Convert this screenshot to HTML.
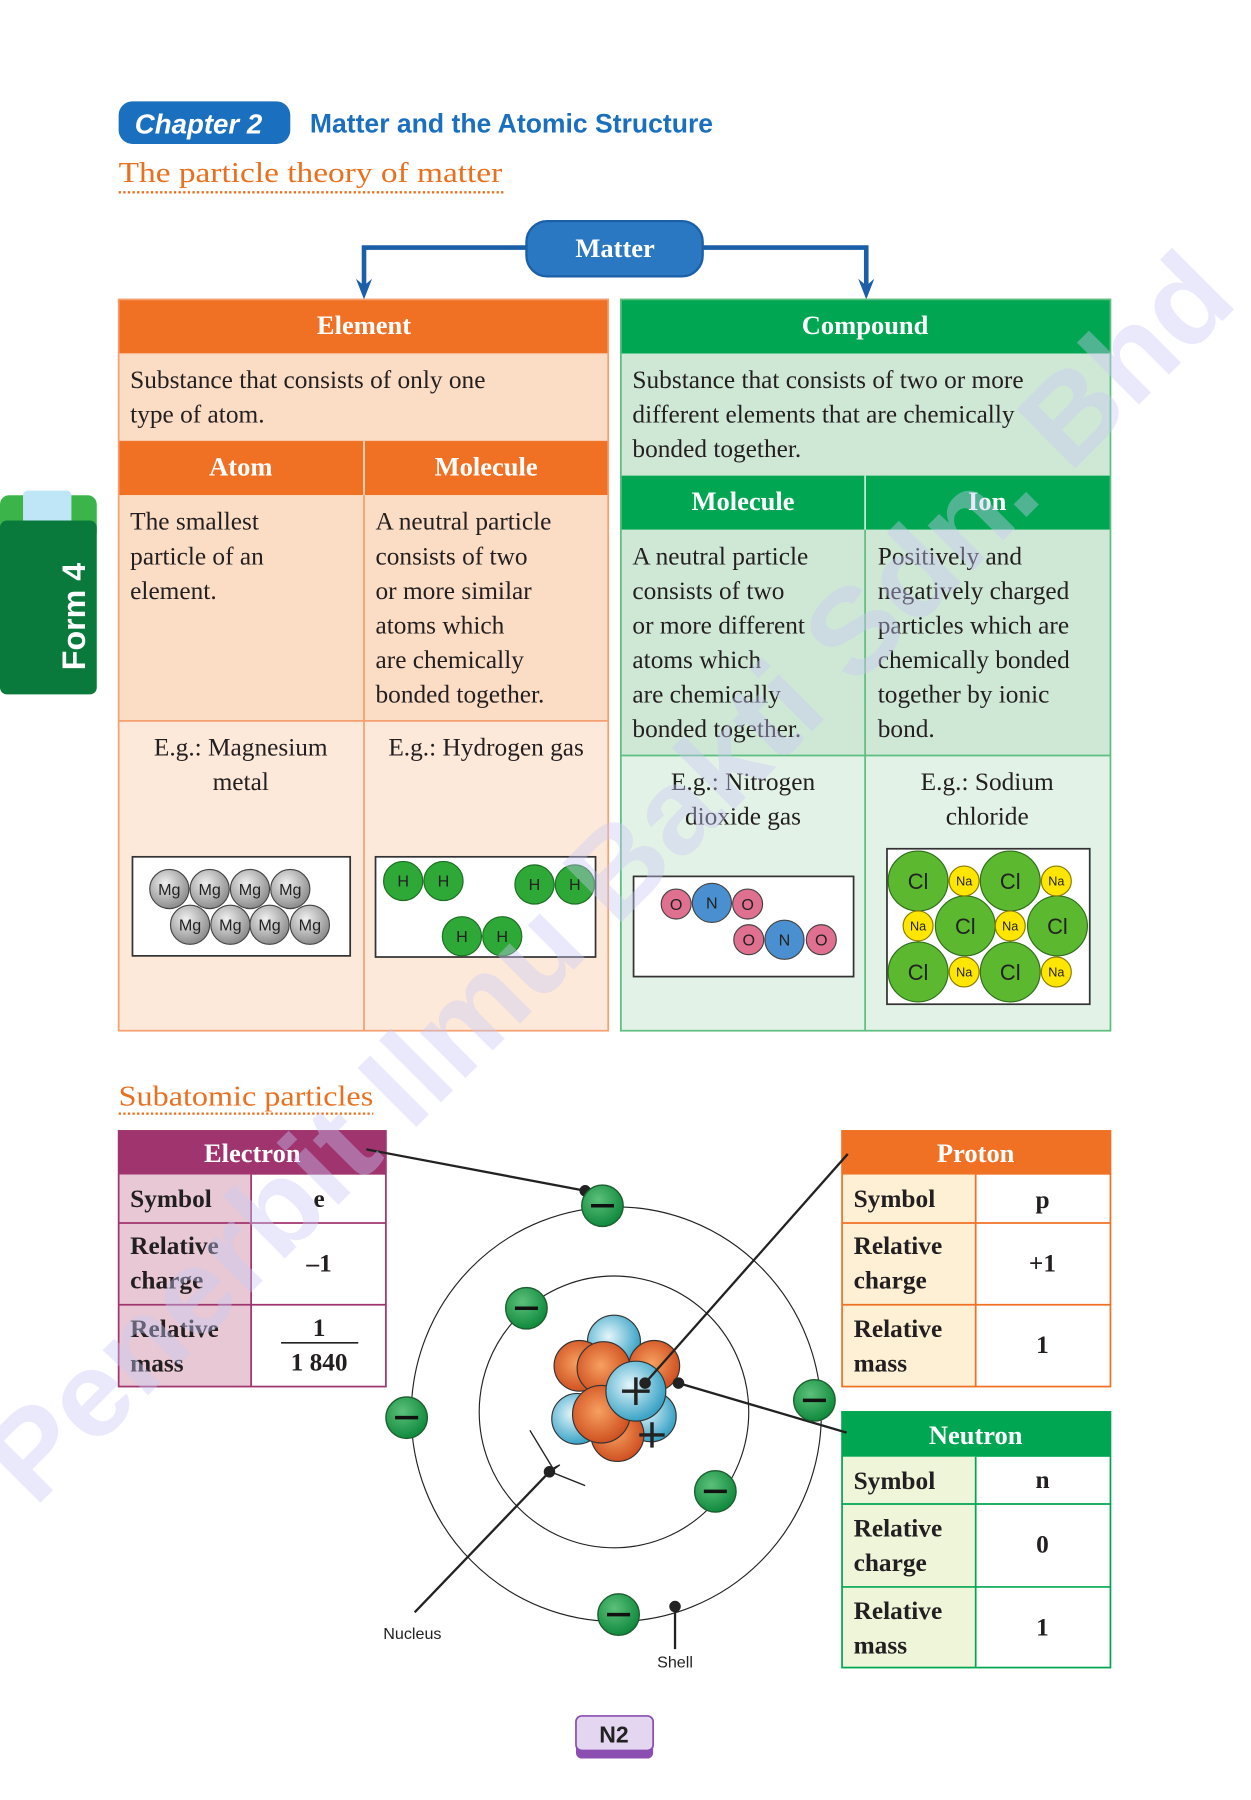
<!DOCTYPE html>
<html><head><meta charset="utf-8"><style>
html,body{margin:0;padding:0;background:#fff;}
svg{display:block;}
.s{font-family:"Liberation Serif",serif;font-size:22px;fill:#231f20;}
.h{font-family:"Liberation Serif",serif;font-size:23px;font-weight:bold;fill:#fff;}
.b{font-family:"Liberation Serif",serif;font-size:22px;font-weight:bold;fill:#231f20;}
.m{font-family:"Liberation Sans",sans-serif;font-size:14px;fill:#222;}
</style></head><body>
<svg width="1251" height="1800" viewBox="0 0 1086 1563" preserveAspectRatio="none" xmlns="http://www.w3.org/2000/svg">
<defs>
<radialGradient id="gb" cx="0.4" cy="0.4" r="0.6"><stop offset="0" stop-color="#e4f6fb"/><stop offset="1" stop-color="#3aa3c6"/></radialGradient>
<radialGradient id="go" cx="0.45" cy="0.45" r="0.6"><stop offset="0" stop-color="#f7a060"/><stop offset="1" stop-color="#cc4a1c"/></radialGradient>
<radialGradient id="gg" cx="0.4" cy="0.35" r="0.65"><stop offset="0" stop-color="#5cc07a"/><stop offset="1" stop-color="#108a3e"/></radialGradient>
<radialGradient id="gm" cx="0.4" cy="0.35" r="0.65"><stop offset="0" stop-color="#f0f0f0"/><stop offset="1" stop-color="#8c8c8c"/></radialGradient>
</defs>

<!-- Form tab -->
<rect x="0" y="430" width="84" height="40" rx="8" fill="#3bb54a"/>
<rect x="20" y="426" width="42" height="30" rx="4" fill="#bfe6f7"/>
<rect x="0" y="452" width="84" height="151" rx="6" fill="#0a7a3c"/>
<text x="0" y="0" transform="translate(74,582) rotate(-90)" font-family="Liberation Sans,sans-serif" font-weight="bold" font-size="28" fill="#fff">Form 4</text>

<!-- Header -->
<rect x="103" y="88" width="149" height="37" rx="12" fill="#1a6fbf"/>
<text x="117" y="116" font-family="Liberation Sans,sans-serif" font-weight="bold" font-style="italic" font-size="24" fill="#fff">Chapter 2</text>
<text x="269" y="115" font-family="Liberation Sans,sans-serif" font-weight="bold" font-size="23" fill="#1a6fbf" textLength="350" lengthAdjust="spacingAndGlyphs">Matter and the Atomic Structure</text>
<text x="103" y="158" font-family="Liberation Serif,serif" font-size="25" fill="#e8701f" textLength="333" lengthAdjust="spacingAndGlyphs">The particle theory of matter</text>
<line x1="103" y1="167" x2="437" y2="167" stroke="#e8701f" stroke-width="2" stroke-dasharray="2,2"/>

<!-- Matter -->
<polyline points="457,215 316,215 316,252" fill="none" stroke="#1a5fa8" stroke-width="4"/>
<polyline points="610,215 752,215 752,252" fill="none" stroke="#1a5fa8" stroke-width="4"/>
<polygon points="309,242 316,260 323,242 316,248" fill="#1a5fa8"/>
<polygon points="745,242 752,260 759,242 752,248" fill="#1a5fa8"/>
<rect x="457" y="192" width="153" height="48" rx="18" fill="#2b78c2" stroke="#1a5fa8" stroke-width="2"/>
<text x="534" y="223" text-anchor="middle" class="h" font-size="22">Matter</text>

<!-- Element -->
<rect x="103" y="260" width="425" height="47" fill="#f07024"/>
<text x="316" y="290" text-anchor="middle" class="h">Element</text>
<rect x="103" y="307" width="425" height="76" fill="#fbdcc4" stroke="#f5b890"/>
<text x="113" y="337" class="s">Substance that consists of only one</text>
<text x="113" y="367" class="s">type of atom.</text>
<rect x="103" y="383" width="425" height="47" fill="#f07024"/>
<line x1="316" y1="383" x2="316" y2="430" stroke="#fbdcc4" stroke-width="1.5"/>
<text x="209" y="413" text-anchor="middle" class="h">Atom</text>
<text x="422" y="413" text-anchor="middle" class="h">Molecule</text>
<rect x="103" y="430" width="425" height="196" fill="#fbdcc4"/>
<rect x="103" y="626" width="425" height="269" fill="#fde9da"/>
<rect x="103" y="260" width="425" height="635" fill="none" stroke="#f5a070" stroke-width="1.5"/>
<line x1="316" y1="430" x2="316" y2="895" stroke="#f5a070" stroke-width="1.5"/>
<line x1="103" y1="626" x2="528" y2="626" stroke="#f5a070" stroke-width="1.5"/>
<g class="s">
<text x="113" y="460">The smallest</text><text x="113" y="490">particle of an</text><text x="113" y="520">element.</text>
<text x="326" y="460">A neutral particle</text><text x="326" y="490">consists of two</text><text x="326" y="520">or more similar</text><text x="326" y="550">atoms which</text><text x="326" y="580">are chemically</text><text x="326" y="610">bonded together.</text>
<text x="209" y="656" text-anchor="middle">E.g.: Magnesium</text><text x="209" y="686" text-anchor="middle">metal</text>
<text x="422" y="656" text-anchor="middle">E.g.: Hydrogen gas</text>
</g>
<rect x="115" y="744" width="189" height="86" fill="#fff" stroke="#333" stroke-width="1.5"/>
<g stroke="#444" stroke-width="1">
<circle cx="147" cy="772" r="17" fill="url(#gm)"/><circle cx="182" cy="772" r="17" fill="url(#gm)"/><circle cx="217" cy="772" r="17" fill="url(#gm)"/><circle cx="252" cy="772" r="17" fill="url(#gm)"/>
<circle cx="165" cy="803" r="17" fill="url(#gm)"/><circle cx="200" cy="803" r="17" fill="url(#gm)"/><circle cx="234" cy="803" r="17" fill="url(#gm)"/><circle cx="269" cy="803" r="17" fill="url(#gm)"/>
</g>
<g class="m" text-anchor="middle">
<text x="147" y="777">Mg</text><text x="182" y="777">Mg</text><text x="217" y="777">Mg</text><text x="252" y="777">Mg</text>
<text x="165" y="808">Mg</text><text x="200" y="808">Mg</text><text x="234" y="808">Mg</text><text x="269" y="808">Mg</text>
</g>
<rect x="326" y="744" width="191" height="87" fill="#fff" stroke="#333" stroke-width="1.5"/>
<g fill="#2ea836" stroke="#1d6e23" stroke-width="1">
<circle cx="350" cy="765" r="17"/><circle cx="385" cy="765" r="17"/>
<circle cx="464" cy="768" r="17"/><circle cx="499" cy="768" r="17"/>
<circle cx="401" cy="813" r="17"/><circle cx="436" cy="813" r="17"/>
</g>
<g class="m" text-anchor="middle">
<text x="350" y="770">H</text><text x="385" y="770">H</text><text x="464" y="773">H</text><text x="499" y="773">H</text><text x="401" y="818">H</text><text x="436" y="818">H</text>
</g>

<!-- Compound -->
<rect x="539" y="260" width="425" height="47" fill="#00a651"/>
<text x="751" y="290" text-anchor="middle" class="h">Compound</text>
<rect x="539" y="307" width="425" height="106" fill="#cfe8d6"/>
<text x="549" y="337" class="s">Substance that consists of two or more</text>
<text x="549" y="367" class="s">different elements that are chemically</text>
<text x="549" y="397" class="s">bonded together.</text>
<rect x="539" y="413" width="425" height="47" fill="#00a651"/>
<line x1="751" y1="413" x2="751" y2="460" stroke="#cfe8d6" stroke-width="1.5"/>
<text x="645" y="443" text-anchor="middle" class="h">Molecule</text>
<text x="857" y="443" text-anchor="middle" class="h">Ion</text>
<rect x="539" y="460" width="425" height="196" fill="#cfe8d6"/>
<rect x="539" y="656" width="425" height="239" fill="#e3f2e6"/>
<rect x="539" y="260" width="425" height="635" fill="none" stroke="#5cbf80" stroke-width="1.5"/>
<line x1="751" y1="460" x2="751" y2="895" stroke="#5cbf80" stroke-width="1.5"/>
<line x1="539" y1="656" x2="964" y2="656" stroke="#5cbf80" stroke-width="1.5"/>
<g class="s">
<text x="549" y="490">A neutral particle</text><text x="549" y="520">consists of two</text><text x="549" y="550">or more different</text><text x="549" y="580">atoms which</text><text x="549" y="610">are chemically</text><text x="549" y="640">bonded together.</text>
<text x="762" y="490">Positively and</text><text x="762" y="520">negatively charged</text><text x="762" y="550">particles which are</text><text x="762" y="580">chemically bonded</text><text x="762" y="610">together by ionic</text><text x="762" y="640">bond.</text>
<text x="645" y="686" text-anchor="middle">E.g.: Nitrogen</text><text x="645" y="716" text-anchor="middle">dioxide gas</text>
<text x="857" y="686" text-anchor="middle">E.g.: Sodium</text><text x="857" y="716" text-anchor="middle">chloride</text>
</g>
<rect x="550" y="761" width="191" height="87" fill="#fff" stroke="#333" stroke-width="1.5"/>
<g stroke="#444" stroke-width="1">
<circle cx="587" cy="785" r="13" fill="#e07090"/><circle cx="649" cy="785" r="13" fill="#e07090"/><circle cx="618" cy="784" r="17" fill="#4a90d0"/>
<circle cx="650" cy="816" r="13" fill="#e07090"/><circle cx="713" cy="816" r="13" fill="#e07090"/><circle cx="681" cy="816" r="17" fill="#4a90d0"/>
</g>
<g class="m" text-anchor="middle">
<text x="587" y="790">O</text><text x="618" y="789">N</text><text x="649" y="790">O</text>
<text x="650" y="821">O</text><text x="681" y="821">N</text><text x="713" y="821">O</text>
</g>
<rect x="770" y="737" width="176" height="135" fill="#fff" stroke="#333" stroke-width="1.5"/>
<g fill="#5cb82e" stroke="#2f6e1a" stroke-width="1">
<circle cx="797" cy="765" r="26"/><circle cx="877" cy="765" r="26"/><circle cx="838" cy="804" r="26"/><circle cx="918" cy="804" r="26"/><circle cx="797" cy="844" r="26"/><circle cx="877" cy="844" r="26"/>
</g>
<g fill="#ffe600" stroke="#8a7a00" stroke-width="1">
<circle cx="837" cy="765" r="13"/><circle cx="917" cy="765" r="13"/><circle cx="797" cy="804" r="13"/><circle cx="877" cy="804" r="13"/><circle cx="837" cy="844" r="13"/><circle cx="917" cy="844" r="13"/>
</g>
<g font-family="Liberation Sans,sans-serif" font-size="19" fill="#222" text-anchor="middle">
<text x="797" y="772">Cl</text><text x="877" y="772">Cl</text><text x="838" y="811">Cl</text><text x="918" y="811">Cl</text><text x="797" y="851">Cl</text><text x="877" y="851">Cl</text>
</g>
<g font-family="Liberation Sans,sans-serif" font-size="11" fill="#222" text-anchor="middle">
<text x="837" y="769">Na</text><text x="917" y="769">Na</text><text x="797" y="808">Na</text><text x="877" y="808">Na</text><text x="837" y="848">Na</text><text x="917" y="848">Na</text>
</g>

<!-- Subatomic -->
<text x="103" y="960" font-family="Liberation Serif,serif" font-size="25" fill="#e8701f" textLength="221" lengthAdjust="spacingAndGlyphs">Subatomic particles</text>
<line x1="103" y1="967" x2="324" y2="967" stroke="#e8701f" stroke-width="2" stroke-dasharray="2,2"/>

<!-- Electron table -->
<rect x="103" y="982" width="232" height="38" fill="#a0346e"/>
<text x="219" y="1009" text-anchor="middle" class="h">Electron</text>
<rect x="103" y="1020" width="115" height="184" fill="#e8c8d4"/>
<g fill="none" stroke="#a0346e" stroke-width="1.5">
<rect x="103" y="982" width="232" height="222"/><line x1="218" y1="1020" x2="218" y2="1204"/><line x1="103" y1="1062" x2="335" y2="1062"/><line x1="103" y1="1133" x2="335" y2="1133"/>
</g>
<g class="b"><text x="113" y="1048">Symbol</text><text x="113" y="1089">Relative</text><text x="113" y="1119">charge</text><text x="113" y="1161">Relative</text><text x="113" y="1191">mass</text></g>
<g class="s" text-anchor="middle" font-weight="bold"><text x="277" y="1048">e</text><text x="277" y="1104">–1</text><text x="277" y="1160">1</text><text x="277" y="1190">1 840</text></g>
<line x1="244" y1="1166" x2="311" y2="1166" stroke="#222" stroke-width="1.5"/>

<!-- Proton table -->
<rect x="731" y="982" width="233" height="38" fill="#f07024"/>
<text x="847" y="1009" text-anchor="middle" class="h">Proton</text>
<rect x="731" y="1020" width="116" height="184" fill="#fdf0d5"/>
<g fill="none" stroke="#f07024" stroke-width="1.5">
<rect x="731" y="982" width="233" height="222"/><line x1="847" y1="1020" x2="847" y2="1204"/><line x1="731" y1="1062" x2="964" y2="1062"/><line x1="731" y1="1133" x2="964" y2="1133"/>
</g>
<g class="b"><text x="741" y="1048">Symbol</text><text x="741" y="1089">Relative</text><text x="741" y="1119">charge</text><text x="741" y="1161">Relative</text><text x="741" y="1191">mass</text></g>
<g class="s" text-anchor="middle" font-weight="bold"><text x="905" y="1049">p</text><text x="905" y="1104">+1</text><text x="905" y="1175">1</text></g>

<!-- Neutron table -->
<rect x="731" y="1226" width="233" height="39" fill="#00a651"/>
<text x="847" y="1254" text-anchor="middle" class="h">Neutron</text>
<rect x="731" y="1265" width="116" height="183" fill="#eef5d8"/>
<g fill="none" stroke="#00a651" stroke-width="1.5">
<rect x="731" y="1226" width="233" height="222"/><line x1="847" y1="1265" x2="847" y2="1448"/><line x1="731" y1="1306" x2="964" y2="1306"/><line x1="731" y1="1378" x2="964" y2="1378"/>
</g>
<g class="b"><text x="741" y="1293">Symbol</text><text x="741" y="1334">Relative</text><text x="741" y="1364">charge</text><text x="741" y="1406">Relative</text><text x="741" y="1436">mass</text></g>
<g class="s" text-anchor="middle" font-weight="bold"><text x="905" y="1292">n</text><text x="905" y="1348">0</text><text x="905" y="1420">1</text></g>

<!-- Atom -->
<ellipse cx="535" cy="1228" rx="178" ry="180" fill="none" stroke="#222" stroke-width="1"/>
<ellipse cx="533" cy="1226" rx="117" ry="118" fill="none" stroke="#222" stroke-width="1"/>
<g stroke="#333" stroke-width="1">
<circle cx="533" cy="1165" r="23" fill="url(#gb)"/>
<circle cx="503" cy="1186" r="22" fill="url(#go)"/>
<circle cx="568" cy="1186" r="22" fill="url(#go)"/>
<circle cx="524" cy="1188" r="23" fill="url(#go)"/>
<circle cx="501" cy="1232" r="22" fill="url(#gb)"/>
<circle cx="565" cy="1230" r="22" fill="url(#gb)"/>
<circle cx="536" cy="1246" r="23" fill="url(#go)"/>
<circle cx="522" cy="1228" r="25" fill="url(#go)"/>
<circle cx="552" cy="1208" r="26" fill="url(#gb)"/>
</g>
<g stroke="#222" stroke-width="3">
<line x1="540" y1="1208" x2="564" y2="1208"/><line x1="552" y1="1196" x2="552" y2="1220"/>
<line x1="555" y1="1246" x2="577" y2="1246"/><line x1="566" y1="1235" x2="566" y2="1257"/>
</g>
<path d="M460,1242 L480,1275 L486,1272 L478,1278 L508,1290" fill="none" stroke="#222" stroke-width="1.2"/>
<g stroke="#222" stroke-width="2" fill="#222">
<line x1="318" y1="998" x2="508" y2="1034"/><circle cx="508" cy="1034" r="4"/>
<line x1="736" y1="1002" x2="560" y2="1201"/><circle cx="560" cy="1201" r="4"/>
<line x1="735" y1="1244" x2="589" y2="1201"/><circle cx="589" cy="1201" r="4"/>
<line x1="360" y1="1400" x2="477" y2="1278"/><circle cx="477" cy="1278" r="4"/>
<line x1="586" y1="1432" x2="586" y2="1395"/><circle cx="586" cy="1395" r="4"/>
</g>
<text x="358" y="1423" text-anchor="middle" class="m" font-size="16">Nucleus</text>
<text x="586" y="1448" text-anchor="middle" class="m" font-size="16">Shell</text>
<g stroke="#1d5e30" stroke-width="1.2" fill="url(#gg)">
<circle cx="523" cy="1047" r="18"/><circle cx="457" cy="1136" r="18"/><circle cx="353" cy="1231" r="18"/><circle cx="707" cy="1216" r="18"/><circle cx="621" cy="1295" r="18"/><circle cx="537" cy="1402" r="18"/>
</g>
<g stroke="#111" stroke-width="3">
<line x1="513" y1="1047" x2="533" y2="1047"/><line x1="447" y1="1136" x2="467" y2="1136"/><line x1="343" y1="1231" x2="363" y2="1231"/><line x1="697" y1="1216" x2="717" y2="1216"/><line x1="611" y1="1295" x2="631" y2="1295"/><line x1="527" y1="1402" x2="547" y2="1402"/>
</g>

<!-- page number -->
<rect x="500" y="1492" width="67" height="35" rx="5" fill="#8a4fb0"/>
<rect x="500" y="1490" width="67" height="30" rx="5" fill="#e4d6f0" stroke="#8a4fb0" stroke-width="1.5"/>
<text x="533" y="1513" text-anchor="middle" font-family="Liberation Sans,sans-serif" font-weight="bold" font-size="20" fill="#222">N2</text>

<!-- watermark -->
<text x="0" y="0" transform="translate(30,1310) rotate(-45)" font-family="Liberation Sans,sans-serif" font-weight="bold" font-size="105" fill="#c8c8f4" fill-opacity="0.4" textLength="1480" lengthAdjust="spacingAndGlyphs">Penerbit Ilmu Bakti Sdn. Bhd</text>
</svg>
</body></html>
